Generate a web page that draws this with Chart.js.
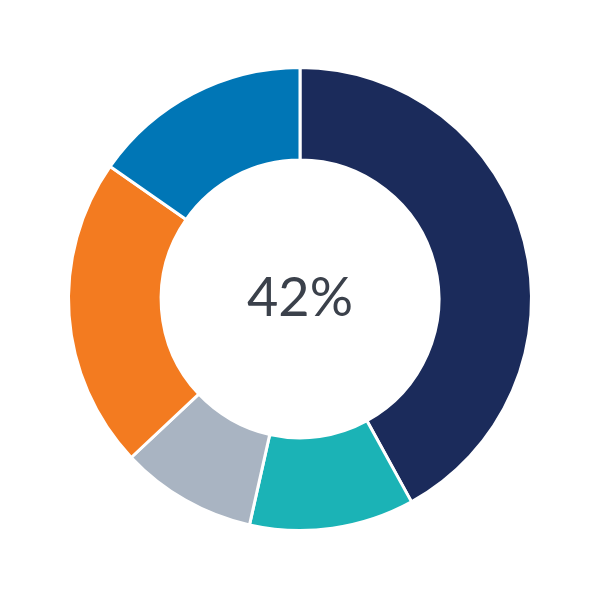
<!DOCTYPE html>
<html>
<head>
<meta charset="utf-8">
<script src="https://cdn.jsdelivr.net/npm/chart.js@4/dist/chart.umd.min.js"></script>
<style>
  html,body{margin:0;padding:0;background:#fff;}
  #wrap{position:relative;width:600px;height:600px;}
</style>
</head>
<body>
<div id="wrap"><canvas id="donut" width="600" height="600"></canvas></div>
<script>
// segments clockwise from the top
const labels = ['A','B','C','D','E'];
const values = [42, 11.5, 9.5, 21.7, 15.3];
const colors = ['#1b2b5b', '#1bb3b6', '#a9b4c2', '#f37b20', '#0076b6'];
const centerText = '42%';

// draws the big number in the hole
const centerLabel = {
  id: 'centerLabel',
  afterDraw(chart){
    const ctx = chart.ctx;
    const meta = chart.getDatasetMeta(0).data[0];
    ctx.save();
    ctx.font = '400 54px Lato, "Open Sans", sans-serif';
    ctx.fillStyle = '#3b414b';
    ctx.textAlign = 'center';
    ctx.textBaseline = 'middle';
    ctx.fillText(centerText, meta.x, meta.y);
    ctx.restore();
  }
};

const ctx = document.getElementById('donut').getContext('2d');
const myChart = new Chart(ctx, {
  type: 'doughnut',
  data: {
    labels: labels,
    datasets: [{
      data: values,
      backgroundColor: colors,
      borderColor: '#ffffff',
      borderWidth: 3,
      hoverOffset: 0
    }]
  },
  options: {
    responsive: false,
    animation: false,
    cutout: '60%',
    layout: { padding: { top: 66, bottom: 68, left: 66, right: 66 } },
    plugins: {
      legend: { display: false },
      tooltip: { enabled: false }
    },
    events: []
  },
  plugins: [centerLabel]
});
</script>
</body>
</html>
